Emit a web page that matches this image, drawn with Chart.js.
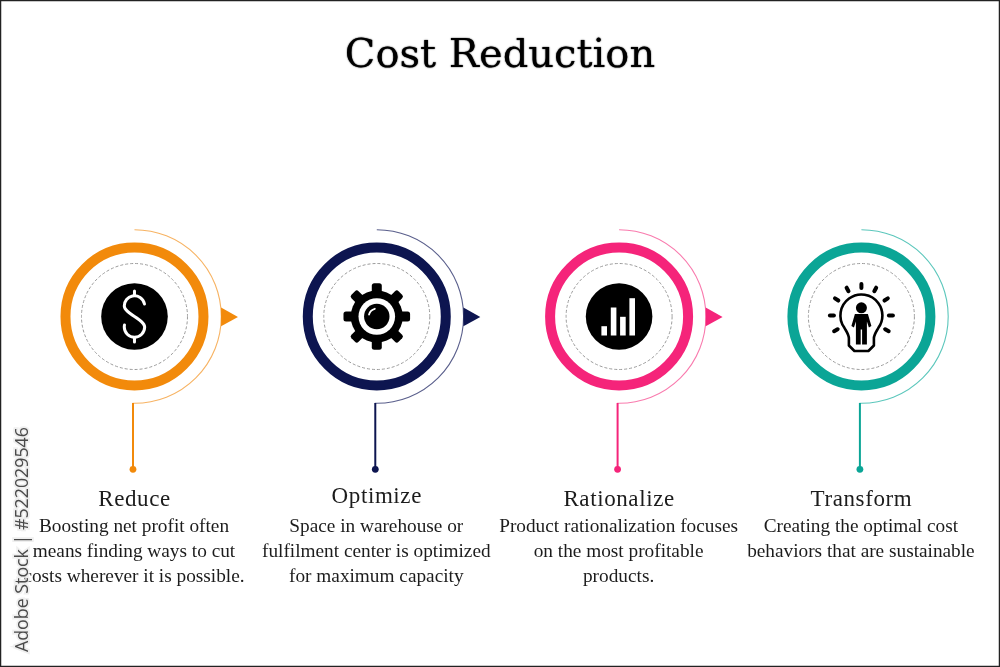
<!DOCTYPE html>
<html><head><meta charset="utf-8"><title>Cost Reduction</title>
<style>html,body{margin:0;padding:0;background:#fff}canvas{display:block}</style>
<script src="https://cdn.jsdelivr.net/npm/chart.js@4"></script></head>
<body><canvas id="c" width="1000" height="667"></canvas>
<script>
// ---- data ----
const chartTitle = "Cost Reduction";
const stages = [1, 2, 3, 4];
const stageNames = ["Reduce", "Optimize", "Rationalize", "Transform"];
const stageText = [
  ["Boosting net profit often", "means finding ways to cut", "costs wherever it is possible."],
  ["Space in warehouse or", "fulfilment center is optimized", "for maximum capacity"],
  ["Product rationalization focuses", "on the most profitable", "products."],
  ["Creating the optimal cost", "behaviors that are sustainable"]
];
const stageIcons = ["dollar", "gear", "bars", "bulb"];
const hasPointer = [true, true, true, false];
const ringLevel = [0, 0, 0, 0];
const stemEndLevel = [-1, -1, -1, -1];
const creditText = "Adobe Stock | #522029546";

// ---- style ----
const colors = ["#F28A0B", "#0D1550", "#F5247A", "#0BA596"];
const thinColors = ["#F7B363", "#5A5F8C", "#F97BAE", "#5CC7BC"];
const ink = "#1c1c1c";
const bodyFont = "19.3px 'Liberation Serif'";
const headFont = "23px 'Liberation Serif'";
const headDy = [500, 497, 500, 500];

function drawDollar(g){
  g.fillStyle="#000";g.beginPath();g.arc(0,0,33.3,0,7);g.fill();
  g.strokeStyle="#fff";g.lineWidth=3;g.lineCap="round";
  g.beginPath();g.arc(0,-10.5,10.2,-0.2,Math.PI,true);
  g.bezierCurveTo(-10.2,-3,10.2,3,10.2,10.5);
  g.arc(0,10.5,10.2,0,Math.PI+0.2,false);g.stroke();
  g.beginPath();g.moveTo(0,-25.5);g.lineTo(0,-21);g.moveTo(0,21);g.lineTo(0,25.5);g.stroke();
}
function drawGear(g){
  g.fillStyle="#000";
  for(let i=0;i<8;i++){g.save();g.rotate(i*Math.PI/4);
    g.beginPath();g.roundRect(-5,-33.3,10,14,2.5);g.fill();g.restore();}
  g.beginPath();g.arc(0,0,26,0,7);g.fill();
  g.fillStyle="#fff";g.beginPath();g.arc(0,0,18.3,0,7);g.fill();
  g.fillStyle="#000";g.beginPath();g.arc(0,0,12.7,0,7);g.fill();
  g.strokeStyle="#fff";g.lineWidth=1.8;g.lineCap="round";
  g.beginPath();g.arc(0,0,8,Math.PI*1.08,Math.PI*1.42);g.stroke();
}
function drawBars(g){
  g.fillStyle="#000";g.beginPath();g.arc(0,0,33.3,0,7);g.fill();
  g.fillStyle="#fff";
  [[-17.7,9.7],[-8.3,-9],[1,0.3],[10.3,-18.3]].forEach(b=>g.fillRect(b[0],b[1],5.6,19-b[1]));
}
function drawBulb(g){
  g.strokeStyle="#000";g.fillStyle="#000";g.lineCap="round";g.lineWidth=4;
  [-90,-62,-33,0,180,-118,-147,30,150].forEach(a=>{
    const r=a*Math.PI/180,c=Math.cos(r),s=Math.sin(r);
    g.beginPath();g.moveTo(27.5*c,27.5*s-1);g.lineTo(31.5*c,31.5*s-1);g.stroke();});
  g.lineWidth=2.6;g.lineJoin="round";
  g.beginPath();g.arc(0,-1,21,Math.PI*0.8,Math.PI*0.2,false);
  g.bezierCurveTo(15,15,12.5,18,12.5,22);g.lineTo(12.5,29);g.lineTo(7,34.5);g.lineTo(-7,34.5);g.lineTo(-12.5,29);g.lineTo(-12.5,22);
  g.bezierCurveTo(-12.5,18,-15,15,-17,11.3);g.stroke();
  g.beginPath();g.arc(0,-8.7,5.5,0,7);g.fill();
  g.beginPath();g.moveTo(-6.5,-2.5);g.lineTo(6.5,-2.5);g.lineTo(10,9.5);g.lineTo(7.5,11);g.lineTo(5.5,5);g.lineTo(5.5,28);g.lineTo(0.7,28);g.lineTo(0.7,13);g.lineTo(-0.7,13);g.lineTo(-0.7,28);g.lineTo(-5.5,28);g.lineTo(-5.5,5);g.lineTo(-7.5,11);g.lineTo(-10,9.5);g.closePath();g.fill();
}
const iconDraw = {dollar:drawDollar, gear:drawGear, bars:drawBars, bulb:drawBulb};

const decor = {
  id:"decor",
  beforeDraw(chart){ const g=chart.ctx; g.shadowColor="#000"; g.shadowBlur=1.4; },
  beforeDatasetsDraw(chart){ const g=chart.ctx; g.shadowColor="transparent"; g.shadowBlur=0; },
  afterDatasetsDraw(chart){
    const g=chart.ctx, X=chart.scales.x, Y=chart.scales.y;
    stages.forEach((s,i)=>{
      const cx=X.getPixelForValue(s), cy=Y.getPixelForValue(ringLevel[i]), ey=Y.getPixelForValue(stemEndLevel[i]);
      g.save();
      // dashed circle
      g.strokeStyle="#9a9a9a";g.lineWidth=1;g.setLineDash([3,2]);
      g.beginPath();g.arc(cx,cy,53,0,Math.PI*2);g.stroke();g.setLineDash([]);
      // thin arc
      g.strokeStyle=thinColors[i];g.lineWidth=1.1;
      g.beginPath();g.arc(cx,cy,86.8,-Math.PI/2,Math.PI/2);g.lineTo(cx-2,cy+86.8);g.stroke();
      // pointer
      if(hasPointer[i]){
        g.fillStyle=colors[i];g.beginPath();g.moveTo(cx+86.6,cy-9);g.lineTo(cx+103.5,cy+0.4);g.lineTo(cx+86.6,cy+9.8);g.closePath();g.fill();
      }
      // stem
      g.strokeStyle=colors[i];g.lineWidth=2;
      g.beginPath();g.moveTo(cx-1.5,cy+86.5);g.lineTo(cx-1.5,ey);g.stroke();
      g.fillStyle=colors[i];g.beginPath();g.arc(cx-1.5,ey,3.4,0,7);g.fill();
      // icon
      g.translate(cx,cy);iconDraw[stageIcons[i]](g);
      g.restore();
      // text
      g.save();g.fillStyle=ink;g.textAlign="center";g.textBaseline="middle";
      g.font=headFont;g.letterSpacing="0.6px";
      g.fillText(stageNames[i],cx,headDy[i]);
      g.font=bodyFont;g.letterSpacing="0px";
      stageText[i].forEach((t,k)=>g.fillText(t,cx-0.5,527+k*25));
      g.restore();
    });
    // credit
    g.save();g.translate(23,652);g.rotate(-Math.PI/2);
    g.font="500 17.8px 'Open Sans'";g.textAlign="left";g.textBaseline="middle";
    g.lineWidth=3.5;g.strokeStyle="rgba(235,235,235,.8)";g.strokeText(creditText,0,0);
    g.fillStyle="#4a4a4a";g.fillText(creditText,0,0);g.restore();
    // frame
    g.save();g.strokeStyle="#222";g.lineWidth=1.5;g.strokeRect(0.5,0.5,999,666);g.restore();
  }
};

new Chart(document.getElementById("c"),{
  type:"scatter",
  data:{datasets:[{
    label:"Stages",
    data:stages.map((s,i)=>({x:s,y:ringLevel[i]})),
    pointStyle:"circle",pointRadius:69,pointHoverRadius:69,
    backgroundColor:"rgba(255,255,255,0)",borderColor:colors,pointBorderColor:colors,pointBorderWidth:10,pointHoverBorderWidth:10
  },{
    label:"Stem ends",
    data:stages.map((s,i)=>({x:s,y:stemEndLevel[i]})),
    pointRadius:0
  }]},
  options:{
    responsive:false,animation:false,
    layout:{padding:0,autoPadding:false},
    events:[],
    plugins:{
      legend:{display:false},tooltip:{enabled:false},
      title:{display:true,text:chartTitle,color:"#000",
        font:{family:"'DejaVu Serif'",size:40,weight:"normal",lineHeight:1},
        padding:{top:37,bottom:3}}
    },
    scales:{
      x:{type:"linear",display:false,min:0.445,max:4.572,grid:{display:false}},
      y:{type:"linear",display:false,min:-2.2938,max:1.5478,grid:{display:false}}
    }
  },
  plugins:[decor]
});
</script></body></html>
